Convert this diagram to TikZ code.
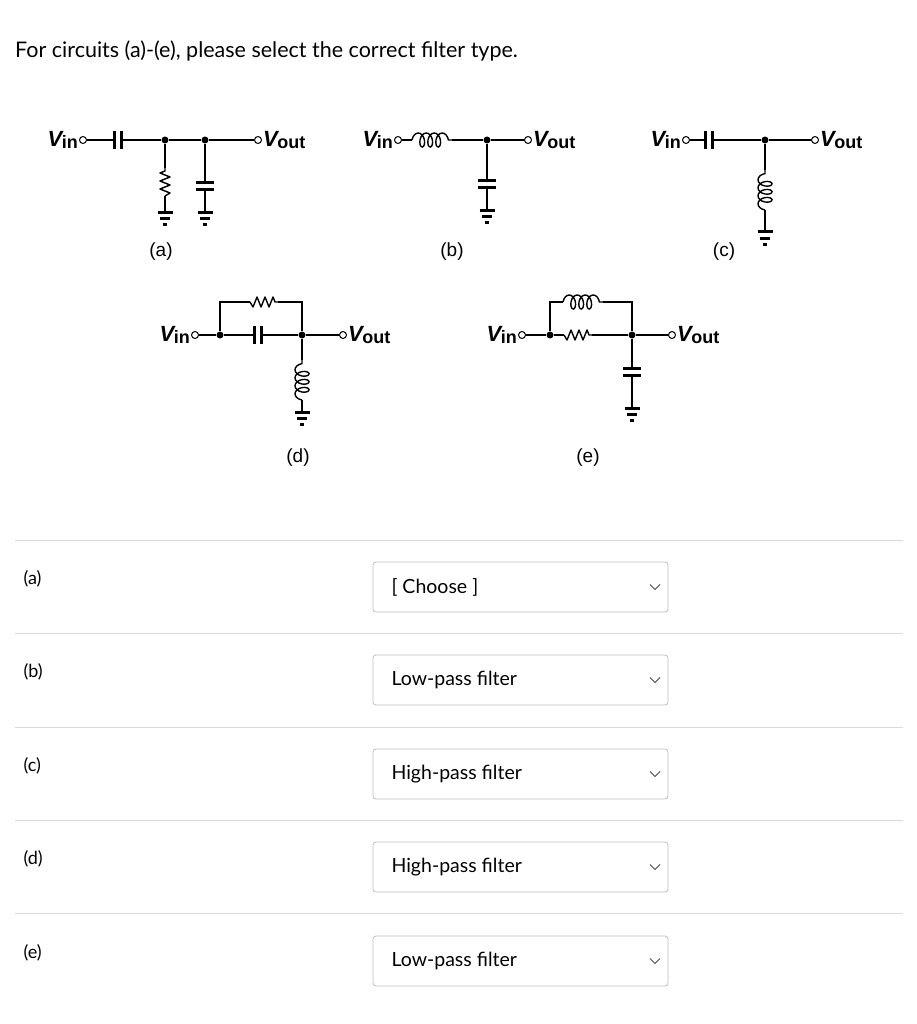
\documentclass[tikz,border=0pt]{standalone}
\usepackage{fontspec}
\setmainfont{Lato}
\newfontfamily\cf{Liberation Sans}
\usetikzlibrary{decorations.pathmorphing}
\newcommand\lbl[1]{{\cf\fontsize{22}{22}\selectfont\bfseries\itshape V\kern-0.5pt}\raisebox{-0.4ex}{\cf\bfseries\fontsize{18}{18}\selectfont #1}}
\tikzset{
 w/.style={line width=1.4pt},
 plate/.style={line width=3pt},
 dot/.style={circle,fill,inner sep=0pt,minimum size=7pt},
 term/.style={circle,draw,line width=1pt,fill=white,inner sep=0pt,minimum size=7pt},
 vin/.style={anchor=east,inner sep=1pt},
 vout/.style={anchor=west,inner sep=1pt},
 clbl/.style={font=\cf\fontsize{19}{19}\selectfont},
 rowline/.style={draw=black!15,line width=0.8pt},
 choice/.style={draw=black!25,line width=0.8pt,rounded corners=3pt},
 opt/.style={anchor=west,font=\fontsize{19.5}{19.5}\selectfont},
 rowlbl/.style={anchor=west,font=\fontsize{18}{18}\selectfont},
 pics/hcap/.style={code={\fill[white](-3.5,-9) rectangle (3.5,9);\draw[plate](-3.5,-9)--(-3.5,9);\draw[plate](3.5,-9)--(3.5,9);}},
 pics/vcap/.style={code={\fill[white](-9,-3.5) rectangle (9,3.5);\draw[plate](-9,-3.5)--(9,-3.5);\draw[plate](-9,3.5)--(9,3.5);}},
 pics/gnd/.style={code={\draw[line width=3pt](-7.5,0)--(7.5,0);\draw[line width=3pt](-5,6)--(5,6);\draw[line width=3pt](-2.2,12)--(2.2,12);}},
 pics/hres/.style={code={\fill[white](-14,-6) rectangle (14,6);\draw[w,line join=round](-14,0)--(-11,5)--(-7,-5)--(-3,5)--(1,-5)--(5,5)--(9,-5)--(11,0)--(14,0);}},
 pics/hind/.style={code={\fill[white](-20,-11) rectangle (20,11);\draw[w,decorate,decoration={coil,amplitude=7pt,segment length=8pt,aspect=0.6}](-20,0)--(20,0);}},
}
\begin{document}
\begin{tikzpicture}[x=1pt,y=-1pt]
\useasboundingbox (0,0) rectangle (917,1024);
\node[anchor=base west,inner sep=0pt,font=\fontsize{21.5}{21.5}\selectfont] (title) at (15,58) {For circuits (a)-(e), please select the correct filter type.};
% ---------- (a)
\node[term] (a1) at (83,140) {}; \node[vin] (va) at (a1.west) {\lbl{in}};
\node[dot] (a2) at (165,140) {}; \node[dot] (a3) at (205,140) {};
\node[term] (a4) at (258,140) {}; \node[vout] at (a4.east) {\lbl{out}};
\draw[w] (a1)--(a2)--(a3)--(a4);
\pic at (118,140) {hcap};
\coordinate (ag1) at (165,213); \coordinate (ag2) at (205,213);
\draw[w] (a2)--(ag1); \draw[w] (a3)--(ag2);
\pic[rotate=90] at (165,182) {hres};
\pic at (205,186) {vcap};
\pic at (ag1) {gnd}; \pic at (ag2) {gnd};
\node[clbl] (la) at (161,252) {(a)};
% ---------- (b)
\node[term] (b1) at (398,140) {}; \node[vin] at (b1.west) {\lbl{in}};
\node[dot] (b2) at (487,140) {};
\node[term] (b3) at (528,140) {}; \node[vout] at (b3.east) {\lbl{out}};
\draw[w] (b1)--(b2)--(b3);
\pic[yscale=-1] at (432,140) {hind};
\coordinate (bg) at (487,211); \draw[w] (b2)--(bg);
\pic at (487,184) {vcap}; \pic at (bg) {gnd};
\node[clbl] at (452,252) {(b)};
% ---------- (c)
\node[term] (c1) at (686,140) {}; \node[vin] at (c1.west) {\lbl{in}};
\node[dot] (c2) at (765,140) {};
\node[term] (c3) at (815,140) {}; \node[vout] at (c3.east) {\lbl{out}};
\draw[w] (c1)--(c2)--(c3);
\pic at (709,140) {hcap};
\coordinate (cg) at (765,232); \draw[w] (c2)--(cg);
\pic[rotate=90] at (765,190) {hind}; \pic at (cg) {gnd};
\node[clbl] at (724,252) {(c)};
% ---------- (d)
\node[term] (d1) at (195,335) {}; \node[vin] at (d1.west) {\lbl{in}};
\node[dot] (d2) at (220,335) {}; \node[dot] (d3) at (302,335) {};
\node[term] (d4) at (343,335) {}; \node[vout] at (d4.east) {\lbl{out}};
\draw[w] (d1)--(d2)--(d3)--(d4);
\draw[w] (d2)|-(261,302)-|(d3);
\pic at (264,302) {hres};
\pic at (258,335) {hcap};
\coordinate (dg) at (302,412); \draw[w] (d3)--(dg);
\pic[rotate=90] at (302,380) {hind}; \pic at (dg) {gnd};
\node[clbl] at (298,458) {(d)};
% ---------- (e)
\node[term] (e1) at (522,335) {}; \node[vin] at (e1.west) {\lbl{in}};
\node[dot] (e2) at (550,335) {}; \node[dot] (e3) at (632,335) {};
\node[term] (e4) at (672,335) {}; \node[vout] at (e4.east) {\lbl{out}};
\draw[w] (e1)--(e2)--(e3)--(e4);
\draw[w] (e2)|-(583,302)-|(e3);
\pic[yscale=-1] at (583,302) {hind};
\pic at (578,335) {hres};
\coordinate (eg) at (632,408); \draw[w] (e3)--(eg);
\pic at (632,372) {vcap}; \pic at (eg) {gnd};
\node[clbl] at (588,458) {(e)};
% ---------- table
\foreach \y in {540,633,727,820,913} \draw[rowline] (15,\y)--(903,\y);
\foreach \y/\l/\t in {587/a/{[ Choose ]},680/b/Low-pass filter,774/c/High-pass filter,867/d/High-pass filter,961/e/Low-pass filter}{
  \node[rowlbl] at (20,\y-8) {(\l)};
  \draw[choice] (373,\y-25) rectangle (668,\y+25);
  \node[opt] at (388,\y) {\t};
  \draw[line width=0.9pt,black!70] (650,\y-2.5)--(655,\y+2.5)--(660,\y-2.5);
}
\end{tikzpicture}
\end{document}
